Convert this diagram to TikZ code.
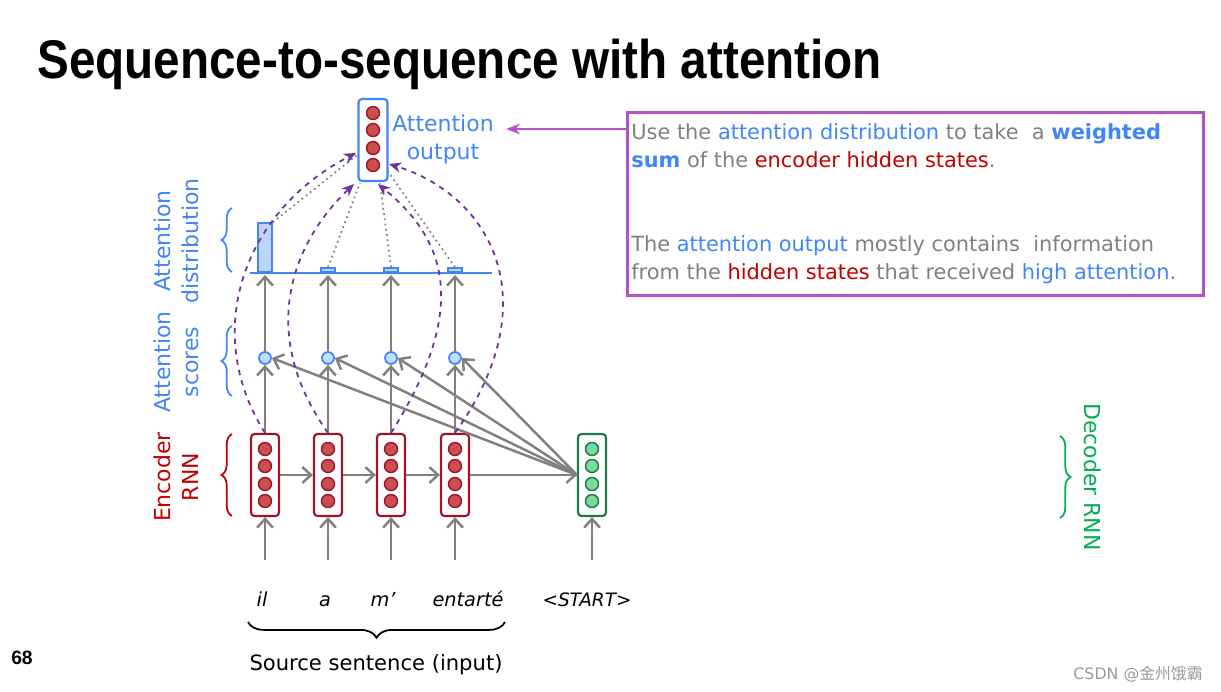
\documentclass[tikz,border=0pt]{standalone}
\usepackage{fontspec}
\setmainfont{DejaVu Sans}
\newfontfamily\titlefont{Liberation Sans}
\newfontfamily\cjk{Noto Sans CJK SC}
\usetikzlibrary{arrows.meta,decorations.pathreplacing,calc}
\definecolor{ablue}{RGB}{66,133,244}
\definecolor{ared}{RGB}{192,0,0}
\definecolor{cellred}{RGB}{160,20,40}
\definecolor{dotred}{RGB}{200,80,80}
\definecolor{agreen}{RGB}{0,176,80}
\definecolor{cellgreen}{RGB}{30,120,70}
\definecolor{dotgreen}{RGB}{120,220,160}
\definecolor{apurple}{RGB}{112,48,160}
\definecolor{boxpurple}{RGB}{180,80,200}
\definecolor{agray}{RGB}{128,128,128}
\newlength\pxu \setlength\pxu{0.02cm}
\tikzset{
 cell/.style={draw=#1,line width=1.2pt,rounded corners=2pt,minimum width=28\pxu,minimum height=82\pxu,inner sep=0pt,fill=white},
 gar/.style={draw=agray,line width=1.4pt,-{Straight Barb[length=5pt,width=9pt]}},
 par/.style={draw=apurple,line width=1pt,dashed,-{Stealth[length=7pt,width=6pt]}},
 dar/.style={draw=agray,line width=1pt,dotted},
}
\newcommand\celldots[4]{%
 \foreach \yy in {-26,-9,9,26}{\fill[#3,draw=#4,line width=0.8pt] (#1,#2+\yy) circle (6.5);}}
\begin{document}
\begin{tikzpicture}[x=0.02cm,y=-0.02cm]
\useasboundingbox (0,0) rectangle (1221,692);
\node[anchor=west,inner sep=0pt,font=\titlefont\bfseries\fontsize{31}{36}\selectfont,xscale=0.875] (title) at (37,64) {Sequence-to-sequence with attention};
\foreach \i/\x in {1/265,2/328,3/391,4/455}{
 \node[cell=cellred] (e\i) at (\x,475) {};
 \celldots{\x}{475}{dotred}{cellred}
 \node[circle,draw=ablue,fill=ablue!30,line width=1pt,minimum size=12\pxu,inner sep=0pt] (s\i) at (\x,358) {};
 \coordinate (in\i) at (\x,560);
 \draw[gar] (in\i) -- (e\i.south);
 \draw[gar] (e\i.north) -- (s\i.south);
 \coordinate (b\i) at (\x,275);
 \draw[gar] (s\i.north) -- (b\i);
}
\node[cell=cellgreen] (d) at (592,475) {};
\celldots{592}{475}{dotgreen}{cellgreen}
\coordinate (ind) at (592,560);
\draw[gar] (ind) -- (d.south);
\foreach \i/\j in {1/2,2/3,3/4}{\draw[gar] (e\i.east) -- (e\j.west);}
\draw[gar] (e4.east) -- (d.west);
\foreach \i in {1,2,3,4}{\draw[gar] (d.west) -- (s\i.east);}
\draw[ablue,line width=1.2pt] (250,273) -- (492,273);
\node[draw=ablue,fill=ablue!35,line width=1pt,inner sep=0pt,minimum width=14\pxu,minimum height=49\pxu,anchor=south] (bar1) at (265,273) {};
\foreach \i/\x in {2/328,3/391,4/455}{
 \node[draw=ablue,fill=ablue!35,line width=1pt,inner sep=0pt,minimum width=14\pxu,minimum height=4\pxu,anchor=south] (bar\i) at (\x,273) {};}
\node[draw=ablue,line width=1.2pt,rounded corners=2pt,minimum width=29\pxu,minimum height=82\pxu,inner sep=0pt,fill=white] (o) at (373,140) {};
\celldots{373}{139}{dotred}{cellred}
\node[text=ablue,align=center,font=\fontsize{12.5}{16}\selectfont] (olab) at (443,139) {Attention\\output};
\draw[dar] (bar1.north east) -- (357,155);
\draw[dar] (bar2.north) -- (360,183);
\draw[dar] (bar3.north) -- (380,183);
\draw[dar] (bar4.north) -- (387,170);
\draw[par] (e1.north) .. controls (200,330) and (245,210) .. (356,153);
\draw[par] (e2.north) .. controls (255,330) and (295,240) .. (354,184);
\draw[par] (e3.north) .. controls (475,300) and (440,235) .. (378,184);
\draw[par] (e4.north) .. controls (550,300) and (490,195) .. (389,164);
\node[text=ablue,rotate=90,align=center,font=\fontsize{12.5}{16}\selectfont] (ldist) at (176,241) {Attention\\distribution};
\node[text=ablue,rotate=90,align=center,font=\fontsize{12.5}{16}\selectfont] (lsc) at (176,362) {Attention\\scores};
\node[text=ared,rotate=90,align=center,font=\fontsize{12.5}{16}\selectfont] (lenc) at (176,477) {Encoder\\RNN};
\draw[ablue,line width=1pt,decorate,decoration={brace,amplitude=6pt}] (232,272) -- (232,208);
\draw[ablue,line width=1pt,decorate,decoration={brace,amplitude=6pt}] (232,396) -- (232,326);
\draw[ared,line width=1pt,decorate,decoration={brace,amplitude=6pt}] (232,516) -- (232,434);
\node[text=agreen,rotate=-90,font=\fontsize{12.5}{16}\selectfont] (ldec) at (1093,477) {Decoder RNN};
\draw[agreen,line width=1pt,decorate,decoration={brace,amplitude=6pt}] (1060,436) -- (1060,518);
\foreach \i/\x/\w in {1/262/il,2/325/a,3/383/m’,4/468/entarté}{
 \node[anchor=base,font=\itshape\fontsize{11}{13}\selectfont] (w\i) at (\x,606) {\w};}
\node[anchor=base,font=\itshape\fontsize{10.5}{13}\selectfont] (wd) at (587,606) {<START>};
\draw[line width=1pt,decorate,decoration={brace,amplitude=9pt,mirror}] (248,622) -- (505,622);
\node[font=\fontsize{12}{15}\selectfont] (src) at (376,665) {Source sentence (input)};
\node[draw=boxpurple,line width=1.5pt,minimum width=576\pxu,minimum height=183\pxu,anchor=north west,inner sep=0pt] (box) at (626,111) {};
\coordinate (arrtip) at (506,129);
\draw[draw=boxpurple,line width=1.5pt,-{Stealth[length=8pt,width=6pt]}] (box.west |- arrtip) -- (arrtip);
\begin{scope}[every node/.style={anchor=base west,inner sep=0pt,text=agray,font=\fontsize{11.9}{14}\selectfont}]
\node (t1) at (631,140) {Use the \textcolor{ablue}{attention distribution} to take\ \ a \textcolor{ablue}{\bfseries weighted}};
\node (t2) at (631,168) {\textcolor{ablue}{\bfseries sum} of the \textcolor{ared}{encoder hidden states}.};
\node (t3) at (631,252) {The \textcolor{ablue}{attention output} mostly contains\ \ information};
\node (t4) at (631,280) {from the \textcolor{ared}{hidden states} that received \textcolor{ablue}{high attention}.};
\end{scope}
\node[font=\titlefont\bfseries\fontsize{11}{13}\selectfont] (pg) at (22,658) {68};
\node[text=agray!80,font=\fontsize{9}{11}\selectfont] (wm) at (1138,674) {CSDN @{\cjk 金州饿霸}};
\end{tikzpicture}
\end{document}
